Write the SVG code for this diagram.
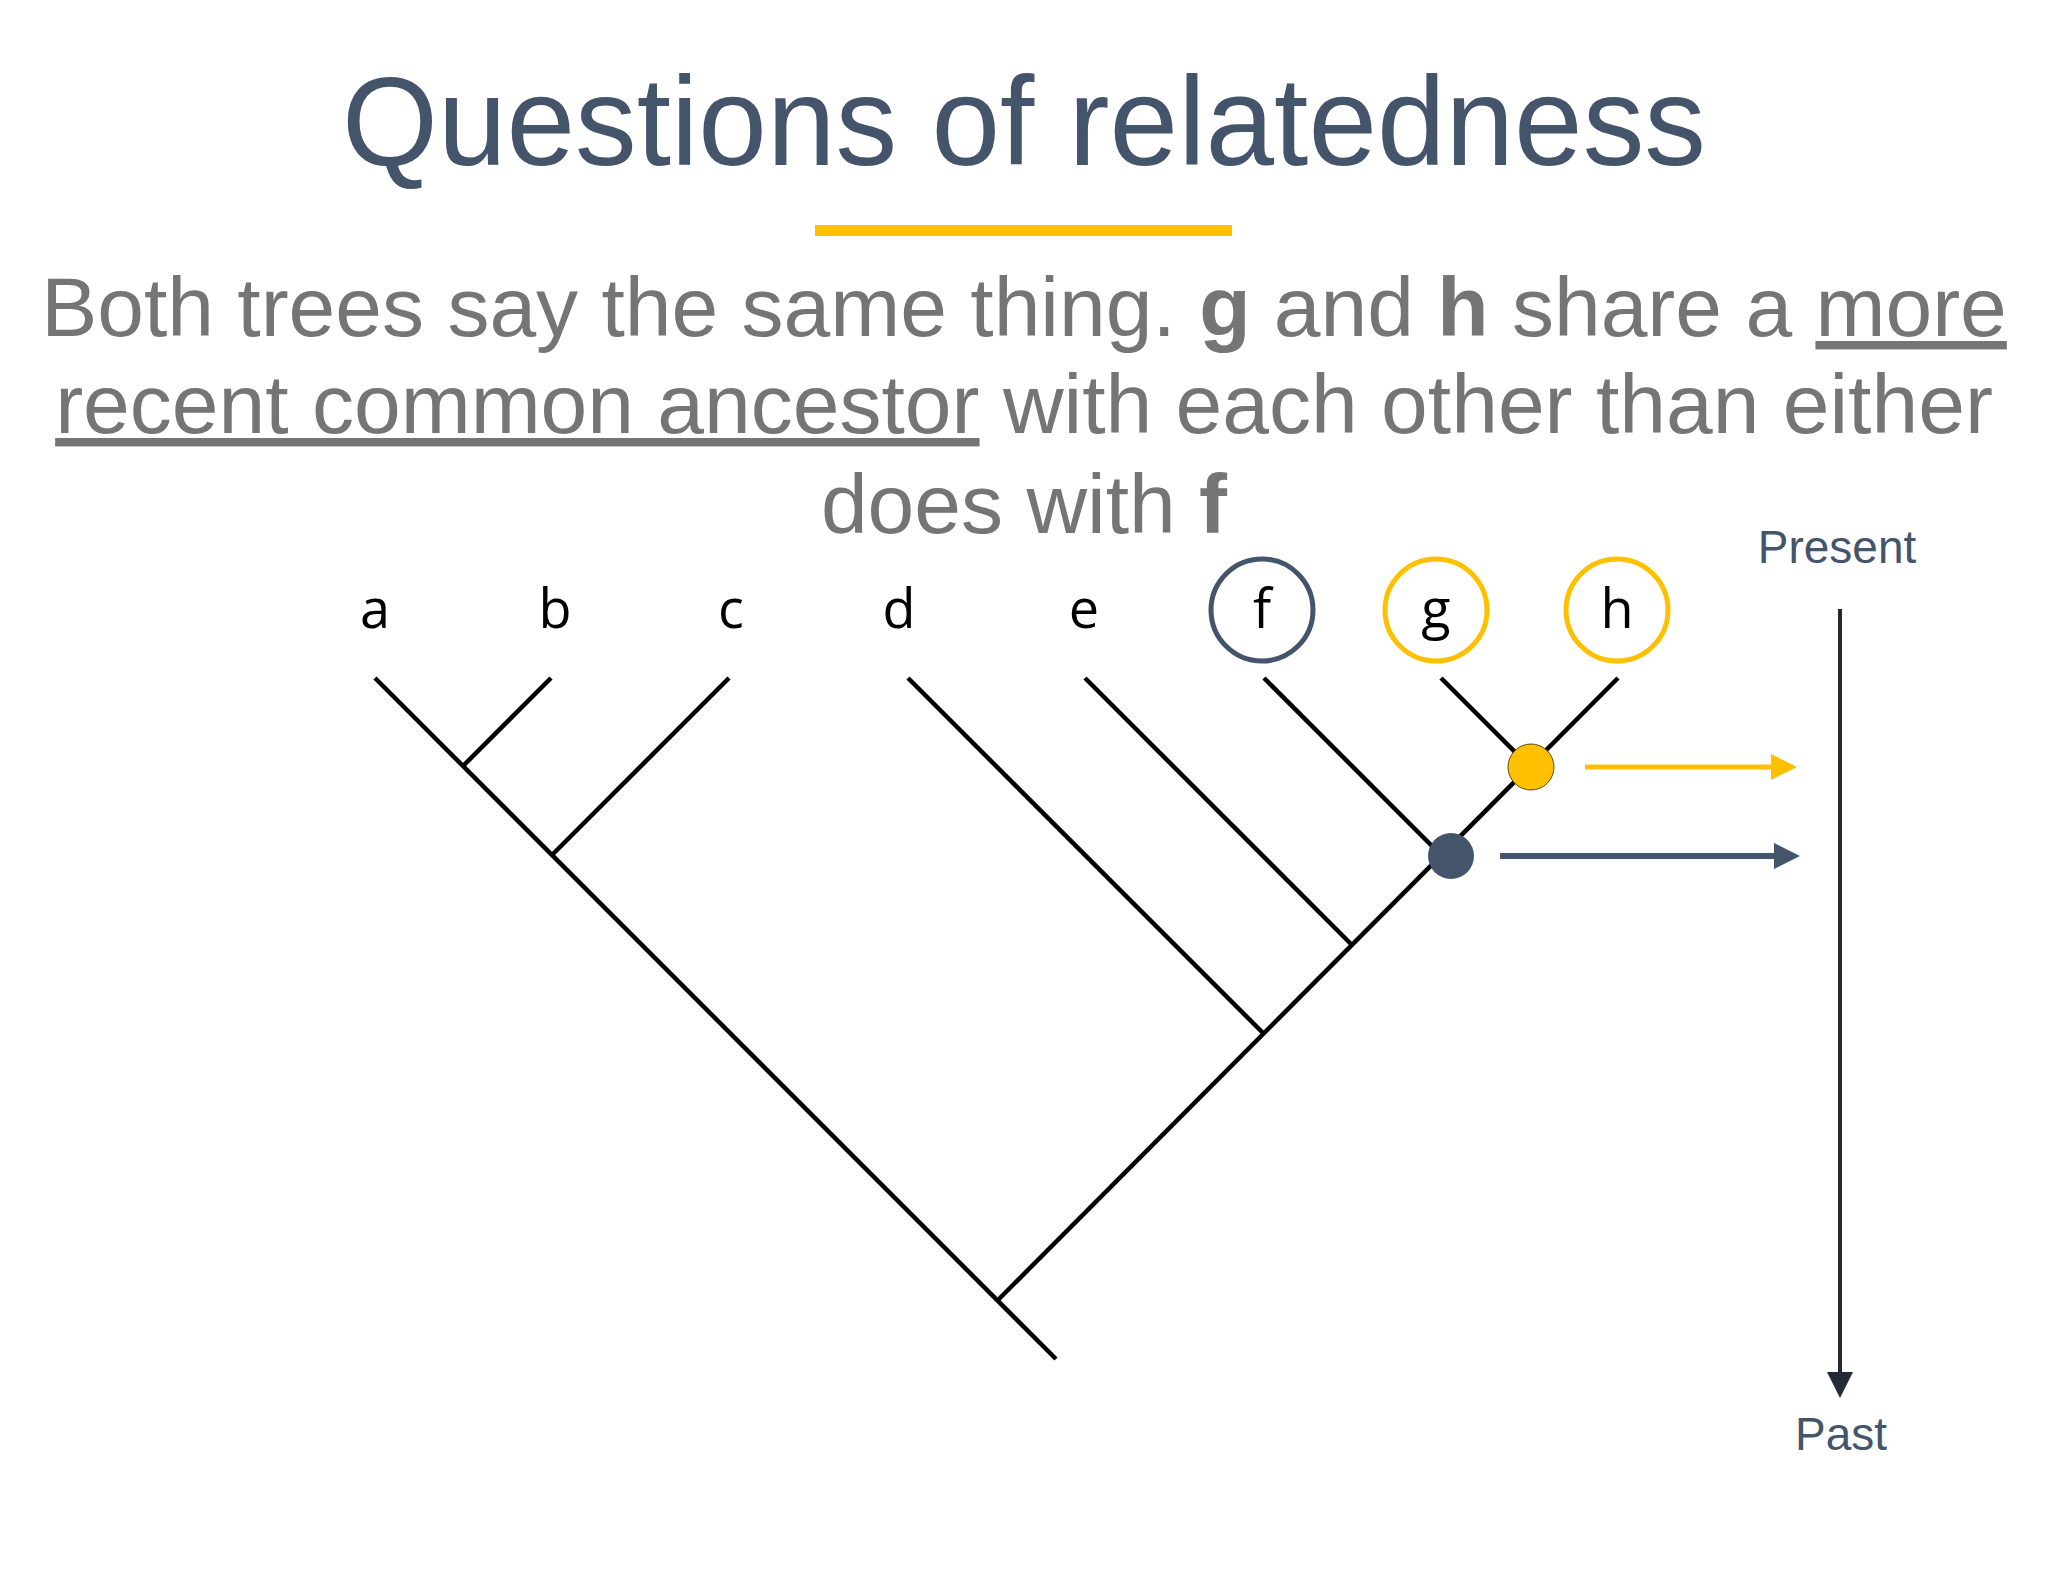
<svg xmlns="http://www.w3.org/2000/svg" width="2048" height="1582" viewBox="0 0 2048 1582">
  <style>
    .title { font-family: "Liberation Sans", Arial, sans-serif; font-size: 126px; fill: #44546A; }
    .sub { font-family: "Liberation Sans", Arial, sans-serif; font-size: 84px; fill: #757575; }
    .b { font-weight: bold; }
    .u { text-decoration: underline; }
    .leaf { font-family: "Open Sans", "Liberation Sans", sans-serif; font-size: 54px; fill: #000; text-anchor: middle; }
    .time { font-family: "Liberation Sans", Arial, sans-serif; font-size: 46px; fill: #44546A; text-anchor: middle; }
    .branch { stroke: #000; stroke-width: 4.5; fill: none; stroke-linecap: butt; }
    .ring-dark { fill: none; stroke: #44546A; stroke-width: 5; }
    .ring-gold { fill: none; stroke: #FFC000; stroke-width: 5; }
  </style>
  <defs>
    <marker id="ah-gold" markerUnits="userSpaceOnUse" markerWidth="26" markerHeight="26" refX="16" refY="13" orient="auto">
      <path d="M0,0 L26,13 L0,26 z" fill="#FFC000"/>
    </marker>
    <marker id="ah-dark" markerUnits="userSpaceOnUse" markerWidth="26" markerHeight="26" refX="16" refY="13" orient="auto">
      <path d="M0,0 L26,13 L0,26 z" fill="#44546A"/>
    </marker>
    <marker id="ah-navy" markerUnits="userSpaceOnUse" markerWidth="26" markerHeight="26" refX="16" refY="13" orient="auto">
      <path d="M0,0 L26,13 L0,26 z" fill="#222A35"/>
    </marker>
  </defs>
  <rect width="2048" height="1582" fill="#FFFFFF"/>

  <g id="title">
    <text class="title" x="1024" y="165" text-anchor="middle" textLength="1364" lengthAdjust="spacingAndGlyphs">Questions of relatedness</text>
    <rect x="815" y="225" width="417" height="11" fill="#FFC000"/>
  </g>

  <g id="subtitle">
    <text class="sub" x="1024" y="336" text-anchor="middle">Both trees say the same thing. <tspan class="b">g</tspan> and <tspan class="b">h</tspan> share a <tspan class="u">more</tspan></text>
    <text class="sub" x="1024" y="433" text-anchor="middle"><tspan class="u">recent common ancestor</tspan> with each other than either</text>
    <text class="sub" x="1024" y="533" text-anchor="middle">does with <tspan class="b">f</tspan></text>
  </g>

  <g id="connectors">
    <!-- a to root -->
    <line class="branch" x1="375" y1="678" x2="1056" y2="1359"/>
    <!-- b -->
    <line class="branch" x1="551" y1="678" x2="463" y2="766"/>
    <!-- c -->
    <line class="branch" x1="729" y1="678" x2="553" y2="854"/>
    <!-- root to h -->
    <line class="branch" x1="998" y1="1300" x2="1618" y2="678"/>
    <!-- d -->
    <line class="branch" x1="908" y1="678" x2="1264" y2="1034"/>
    <!-- e -->
    <line class="branch" x1="1085" y1="678" x2="1353" y2="946"/>
    <!-- f -->
    <line class="branch" x1="1264" y1="678" x2="1442" y2="856"/>
    <!-- g -->
    <line class="branch" x1="1441" y1="678" x2="1531" y2="768"/>
    <!-- arrows -->
    <line x1="1585" y1="767" x2="1787" y2="767" stroke="#FFC000" stroke-width="5" marker-end="url(#ah-gold)"/>
    <line x1="1500" y1="856" x2="1790" y2="856" stroke="#44546A" stroke-width="6" marker-end="url(#ah-dark)"/>
  </g>

  <g id="node-a"><text class="leaf" x="375" y="628">a</text></g>
  <g id="node-b"><text class="leaf" x="555" y="628">b</text></g>
  <g id="node-c"><text class="leaf" x="731" y="628">c</text></g>
  <g id="node-d"><text class="leaf" x="899" y="628">d</text></g>
  <g id="node-e"><text class="leaf" x="1084" y="628">e</text></g>
  <g id="node-f">
    <circle class="ring-dark" cx="1262" cy="610" r="51"/>
    <text class="leaf" x="1262" y="628">f</text>
  </g>
  <g id="node-g">
    <circle class="ring-gold" cx="1436" cy="610" r="51"/>
    <text class="leaf" x="1436" y="628">g</text>
  </g>
  <g id="node-h">
    <circle class="ring-gold" cx="1617" cy="610" r="51"/>
    <text class="leaf" x="1617" y="628">h</text>
  </g>

  <g id="ancestor-gh">
    <circle cx="1531" cy="767" r="23" fill="#FFC000" stroke="#5a4a10" stroke-width="1"/>
  </g>
  <g id="ancestor-fgh">
    <circle cx="1451" cy="856" r="23" fill="#44546A"/>
  </g>

  <g id="timeline">
    <text class="time" x="1837" y="563">Present</text>
    <line x1="1840" y1="609" x2="1840" y2="1388" stroke="#222A35" stroke-width="4" marker-end="url(#ah-navy)"/>
    <text class="time" x="1841" y="1450">Past</text>
  </g>
</svg>
